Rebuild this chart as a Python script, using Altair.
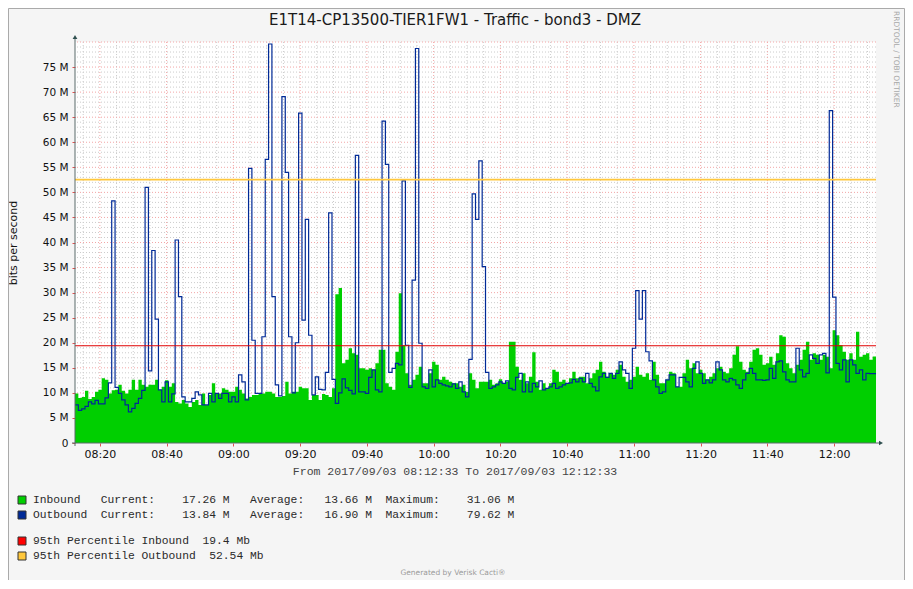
import altair as alt
import pandas as pd

# ---------------- data (Mbit/s, one value per minute) ----------------
inbound = [
    9.9, 9.0, 9.2, 10.4, 8.8, 9.2, 10.2, 10.6, 12.9, 12.6,
    9.9, 10.5, 10.6, 11.6, 10.4, 9.9, 10.6, 12.6, 10.6, 12.6,
    11.6, 11.2, 11.6, 11.6, 12.6, 10.6, 11.2, 12.5, 11.2, 11.9,
    8.2, 7.9, 8.6, 7.9, 7.2, 8.2, 8.6, 7.6, 9.9, 7.6,
    9.6, 11.9, 9.9, 9.9, 10.9, 10.6, 10.2, 10.2, 11.2, 10.6,
    9.9, 8.9, 9.2, 9.6, 9.6, 9.9, 9.9, 10.2, 10.2, 9.9,
    9.2, 9.2, 9.4, 12.2, 9.9, 10.2, 10.2, 11.2, 10.9, 10.9,
    8.6, 9.6, 9.6, 8.6, 9.8, 9.6, 9.2, 10.9, 29.7, 30.9,
    15.9, 16.6, 18.9, 17.9, 17.6, 14.9, 14.9, 14.6, 14.9, 14.6,
    15.9, 18.6, 18.6, 11.9, 11.2, 10.6, 18.2, 29.9, 19.5, 13.9,
    11.6, 12.6, 13.6, 15.2, 11.9, 11.9, 13.9, 16.2, 15.6, 12.6,
    13.2, 12.6, 12.2, 11.9, 11.9, 11.2, 11.6, 10.2, 13.9, 12.6,
    10.9, 12.2, 12.2, 12.2, 12.6, 11.6, 11.9, 12.7, 11.9, 12.2,
    20.2, 20.2, 15.2, 12.6, 13.9, 11.9, 13.2, 18.1, 12.2, 10.6,
    11.9, 10.9, 11.9, 14.6, 14.2, 12.2, 12.6, 11.9, 12.9, 14.2,
    12.9, 13.2, 13.2, 11.9, 12.9, 13.9, 14.6, 16.2, 14.2, 13.2,
    13.9, 13.6, 14.6, 15.6, 13.2, 12.2, 12.6, 13.2, 15.2, 13.6,
    13.2, 13.9, 12.6, 16.2, 13.6, 11.9, 11.9, 12.6, 14.2, 13.9,
    11.2, 11.2, 13.9, 16.6, 14.9, 15.9, 13.9, 14.6, 13.9, 12.6,
    13.2, 13.9, 14.9, 15.2, 14.2, 13.9, 14.9, 17.6, 19.3, 16.2,
    14.6, 14.2, 16.2, 18.6, 18.9, 17.6, 15.6, 15.9, 17.2, 15.6,
    17.9, 21.5, 21.2, 15.9, 14.9, 13.9, 15.6, 16.6, 18.6, 20.2,
    16.6, 17.9, 17.6, 16.6, 17.6, 17.2, 14.9, 22.5, 21.5, 19.5,
    18.2, 16.6, 17.9, 16.6, 22.2, 17.2, 17.6, 17.9, 16.6, 17.26,
]

outbound = [
    7.6, 6.5, 6.8, 7.3, 8.2, 7.8, 8.5, 7.8, 7.8, 9.0,
    12.0, 48.3, 11.1, 9.9, 8.6, 7.6, 6.2, 6.9, 7.9, 8.9,
    10.5, 51.0, 14.4, 38.4, 24.7, 10.6, 8.2, 12.2, 8.2, 9.8,
    40.5, 29.2, 9.2, 8.2, 8.2, 8.9, 10.2, 9.6, 7.6, 7.6,
    9.9, 8.2, 9.9, 8.9, 9.9, 9.9, 8.2, 9.2, 8.2, 13.6,
    12.2, 8.6, 54.8, 20.5, 9.9, 9.9, 21.2, 56.6, 79.6, 29.2,
    11.6, 9.4, 69.1, 54.0, 21.2, 10.0, 20.0, 65.8, 24.5, 44.6,
    21.5, 9.6, 13.2, 10.7, 10.6, 14.1, 45.9, 12.7, 7.9, 10.0,
    12.8, 11.0, 10.5, 9.8, 57.4, 10.2, 10.2, 9.9, 13.1, 14.6,
    10.6, 10.2, 64.2, 55.6, 14.1, 14.9, 15.9, 15.6, 52.3, 19.5,
    11.1, 32.5, 78.7, 19.9, 11.2, 10.9, 14.6, 11.2, 12.6, 11.9,
    11.6, 11.4, 11.2, 11.8, 10.9, 12.2, 10.2, 9.2, 16.7, 49.7,
    44.6, 56.3, 35.2, 14.1, 10.9, 11.2, 11.6, 12.2, 11.9, 12.4,
    10.9, 10.6, 13.1, 13.9, 10.2, 12.2, 10.2, 11.9, 11.2, 12.4,
    10.6, 10.9, 11.2, 11.9, 10.9, 11.2, 11.6, 11.9, 12.0, 12.7,
    12.2, 12.9, 12.2, 13.9, 11.9, 11.2, 10.4, 13.2, 13.9, 13.1,
    13.9, 12.9, 13.9, 16.2, 14.6, 13.9, 10.9, 18.9, 30.4, 24.7,
    30.4, 18.2, 16.4, 12.6, 11.2, 9.9, 10.2, 12.6, 13.6, 13.6,
    11.2, 13.1, 13.1, 12.2, 11.2, 14.9, 16.2, 13.9, 11.9, 12.6,
    12.0, 12.6, 16.2, 14.6, 12.6, 12.2, 12.9, 12.6, 11.6, 10.9,
    12.6, 13.9, 14.9, 13.9, 12.6, 12.6, 12.5, 12.6, 14.9, 12.9,
    16.2, 16.4, 14.2, 12.6, 12.2, 12.2, 18.9, 14.6, 13.2, 13.9,
    17.6, 16.9, 15.9, 17.6, 17.9, 14.0, 66.3, 29.1, 15.9, 14.6,
    16.6, 12.2, 16.6, 15.6, 13.9, 14.6, 12.6, 13.9, 13.84, 13.84,
]

x_tick_labels = ["08:20", "08:40", "09:00", "09:20", "09:40", "10:00",
                 "10:20", "10:40", "11:00", "11:20", "11:40", "12:00"]
y_tick_values = [0, 5, 10, 15, 20, 25, 30, 35, 40, 45, 50, 55, 60, 65, 70, 75]
p95_inbound = 19.4
p95_outbound = 52.54

title_text = "E1T14-CP13500-TIER1FW1 - Traffic - bond3 - DMZ"
y_title = "bits per second"
range_text = "From 2017/09/03 08:12:33 To 2017/09/03 12:12:33"
legend_rows = [
    ("Inbound   Current:    17.26 M   Average:   13.66 M  Maximum:    31.06 M", "#00CF00"),
    ("Outbound  Current:    13.84 M   Average:   16.90 M  Maximum:    79.62 M", "#002A97"),
    ("95th Percentile Inbound  19.4 Mb", "#FF0000"),
    ("95th Percentile Outbound  52.54 Mb", "#FFC73B"),
]
footer_text = "Generated by Verisk Cacti\u00ae"
side_text = "RRDTOOL / TOBI OETIKER"

# ---------------- tables ----------------
start = pd.Timestamp("2017-09-03 08:12:33")
end = pd.Timestamp("2017-09-03 12:12:33")
times = [start + pd.Timedelta(minutes=i) for i in range(len(inbound))]
df = pd.DataFrame({
    "t": times + [end],
    "inbound": inbound + [inbound[-1]],
    "outbound": outbound + [outbound[-1]],
})

grid_x_all = pd.date_range("2017-09-03 08:15", "2017-09-03 12:10", freq="5min")
grid_x_major = [g for g in grid_x_all if g.minute % 20 == 0]
grid_x_minor = [g for g in grid_x_all if g.minute % 20 != 0]
grid_y_major = list(range(5, 81, 5))
grid_y_minor = [v for v in range(1, 80) if v % 5 != 0]

W, H = 801, 401
xdom = [alt.DateTime(year=2017, month=9, date=3, hours=8, minutes=12, seconds=33),
        alt.DateTime(year=2017, month=9, date=3, hours=12, minutes=12, seconds=33)]
xscale = alt.Scale(domain=xdom, nice=False)
yscale = alt.Scale(domain=[0, 80], nice=False, zero=True)

x_tick_dt = []
for lab in x_tick_labels:
    hh, mm = lab.split(":")
    x_tick_dt.append(alt.DateTime(year=2017, month=9, date=3, hours=int(hh), minutes=int(mm)))

x_axis = alt.Axis(values=x_tick_dt, format="%H:%M", labelFont="DejaVu Sans",
                  labelFontSize=11, labelColor="#111", tickColor="#e05050",
                  tickSize=3, domain=False, grid=False, labelPadding=2,
                  labelFlush=False, title=None)
y_axis = alt.Axis(values=y_tick_values,
                  labelExpr="datum.value == 0 ? '0' : datum.value + ' M'",
                  labelFont="DejaVu Sans", labelFontSize=10.5, labelColor="#111",
                  tickColor="#e05050", tickSize=3, domain=False, grid=False,
                  labelPadding=4, title=None)

minor_col = "#cccccc"
major_col = "#f2a6a6"

gx_minor = alt.Chart(pd.DataFrame({"t": grid_x_minor})).mark_rule(
    color=minor_col, strokeDash=[1, 2], strokeWidth=1
).encode(x=alt.X("t:T", scale=xscale, axis=x_axis))
gx_major = alt.Chart(pd.DataFrame({"t": grid_x_major})).mark_rule(
    color=major_col, strokeDash=[1, 2], strokeWidth=1
).encode(x=alt.X("t:T", scale=xscale, axis=x_axis))
gy_minor = alt.Chart(pd.DataFrame({"v": grid_y_minor})).mark_rule(
    color=minor_col, strokeDash=[1, 2], strokeWidth=1
).encode(y=alt.Y("v:Q", scale=yscale, axis=y_axis))
gy_major = alt.Chart(pd.DataFrame({"v": grid_y_major})).mark_rule(
    color=major_col, strokeDash=[1, 2], strokeWidth=1
).encode(y=alt.Y("v:Q", scale=yscale, axis=y_axis))

area = alt.Chart(df).mark_area(color="#00CF00", interpolate="step-after").encode(
    x=alt.X("t:T", scale=xscale, axis=x_axis),
    y=alt.Y("inbound:Q", scale=yscale, axis=y_axis),
)
line = alt.Chart(df).mark_line(color="#002A97", strokeWidth=1.2, interpolate="step-after").encode(
    x=alt.X("t:T", scale=xscale, axis=x_axis),
    y=alt.Y("outbound:Q", scale=yscale, axis=y_axis),
)
p_in = alt.Chart(pd.DataFrame({"v": [p95_inbound]})).mark_rule(color="#E00000", strokeWidth=1).encode(
    y=alt.Y("v:Q", scale=yscale, axis=y_axis))
p_out = alt.Chart(pd.DataFrame({"v": [p95_outbound]})).mark_rule(color="#FFC73B", strokeWidth=1.6).encode(
    y=alt.Y("v:Q", scale=yscale, axis=y_axis))

one = pd.DataFrame({"a": [0]})
axis_col = "#5a6a6a"
y_axis_line = alt.Chart(one).mark_rule(color=axis_col, strokeWidth=1).encode(
    x=alt.value(0), y=alt.value(-5), y2=alt.value(404))
x_axis_line = alt.Chart(one).mark_rule(color=axis_col, strokeWidth=1).encode(
    x=alt.value(-3), x2=alt.value(805), y=alt.value(H))
y_arrow = alt.Chart(one).mark_point(shape="triangle-up", filled=True, size=22, color="#2f4f4f", opacity=1).encode(
    x=alt.value(0), y=alt.value(-5))
x_arrow = alt.Chart(one).mark_point(shape="triangle-right", filled=True, size=22, color="#2f4f4f", opacity=1).encode(
    x=alt.value(806), y=alt.value(H))

def txt(text, x, y, **kw):
    return alt.Chart(one).mark_text(**kw).encode(
        x=alt.value(x), y=alt.value(y), text=alt.value(text))

title = txt(title_text, 380, -22, font="DejaVu Sans", fontSize=15, color="#1a1a1a",
            align="center", baseline="middle")
ytitle = txt(y_title, -61, 201, font="DejaVu Sans", fontSize=11, color="#111",
             align="center", baseline="middle", angle=270)
rng = txt(range_text, 380, 430, font="Liberation Mono", fontSize=11.5, color="#444",
          align="center", baseline="middle")
footer = txt(footer_text, 378, 531, font="DejaVu Sans", fontSize=7.5, color="#9a9a9a",
             align="center", baseline="middle")
side = txt(side_text, 821, -31, font="DejaVu Sans", fontSize=7.5, color="#a8a8a8",
           align="left", baseline="middle", angle=90)

legend_layers = []
legend_y = [458, 473, 499, 514]
for (label, col), ly in zip(legend_rows, legend_y):
    legend_layers.append(
        alt.Chart(one).mark_square(size=64, color=col, opacity=1, stroke="#333", strokeWidth=1).encode(
            x=alt.value(-53), y=alt.value(ly)))
    legend_layers.append(
        txt(label.replace(" ", "\u00a0"), -42, ly, font="Liberation Mono", fontSize=11.3,
            color="#2a2a2a", align="left", baseline="middle"))

frame = alt.Chart(one).mark_rect(fill=None, stroke="#aaaaaa", strokeWidth=1).encode(
    x=alt.value(-66.5), x2=alt.value(829.5), y=alt.value(-33.5), y2=alt.value(538.5))

chart = alt.layer(
    gx_minor, gy_minor, gx_major, gy_major, area, line, p_in, p_out,
    y_axis_line, x_axis_line, y_arrow, x_arrow,
    title, ytitle, rng, footer, side, frame, *legend_layers,
).properties(
    width=W, height=H, background="#F5F5F5",
    padding={"left": 67, "top": 34, "right": 29, "bottom": 137},
    autosize=alt.AutoSizeParams(type="none"),
).configure_view(fill="white", stroke=None)

chart.save("out.html", embed_options={"renderer": "svg", "actions": False})
